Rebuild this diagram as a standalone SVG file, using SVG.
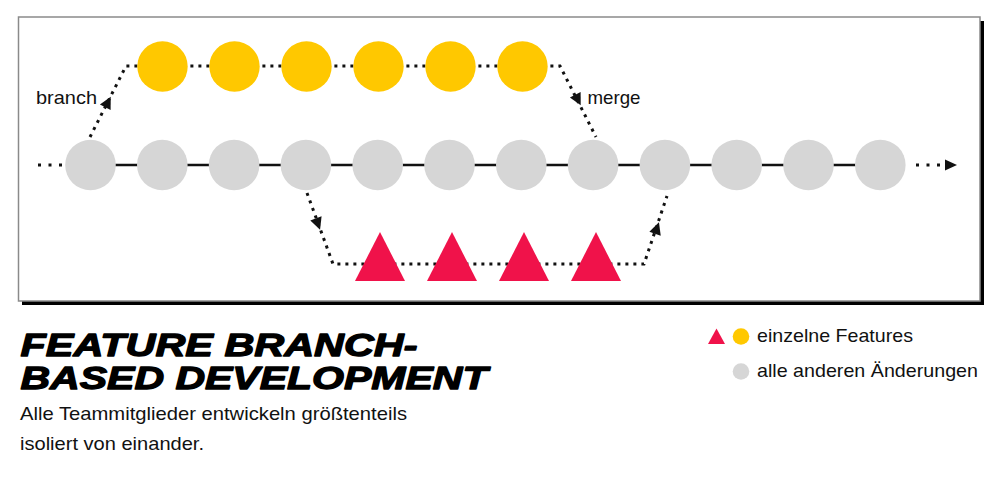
<svg xmlns="http://www.w3.org/2000/svg" xmlns:xlink="http://www.w3.org/1999/xlink" width="1000" height="482" viewBox="0 0 1000 482">
  <style>
    .gray { fill: #d6d6d6; }
    .yellow { fill: #ffc800; }
    .red { fill: #f0124a; }
    .dots { fill: none; stroke: #111; stroke-width: 3; stroke-dasharray: 3 5; }
    .dots-end { fill: none; stroke: #111; stroke-width: 3; stroke-dasharray: 3 7.5; }
    .solid { fill: none; stroke: #111; stroke-width: 2.5; }
    .label { font-family: "Liberation Sans", Arial, sans-serif; font-size: 19px; fill: #111; }
    .title { font-family: "Liberation Sans", Arial, sans-serif; font-size: 32px; font-weight: bold; font-style: italic; fill: #000; stroke: #000; stroke-width: 1.3; stroke-linejoin: round; }
  </style>
  <defs>
    <path id="ah" d="M6,0 L-6,-6 L-6,6 Z" fill="#111"/>
  </defs>
  <rect width="1000" height="482" fill="#fff"/>

  <!-- frame -->
  <g id="frame">
    <rect x="22" y="21" width="962" height="284" fill="#000"/>
    <rect x="18.5" y="17" width="961.5" height="284" fill="#fff" stroke="#8a8a8a" stroke-width="1.5"/>
  </g>

  <!-- connectors -->
  <g id="connectors">
    <line class="solid" x1="90" y1="165" x2="882" y2="165"/>
    <line class="dots-end" x1="38" y1="165" x2="64" y2="165"/>
    <line class="dots-end" x1="916" y1="165" x2="942" y2="165"/>
    <path d="M945,159.5 L957,165 L945,170.5 Z" fill="#111"/>
    <path class="dots" d="M90,137 L126,66 L560,66 L596,137"/>
    <path class="dots" d="M307,193 L333,264 L644,264 L667,196"/>
    <use xlink:href="#ah" transform="translate(108,102) rotate(-63)"/>
    <use xlink:href="#ah" transform="translate(578,100) rotate(63)"/>
    <use xlink:href="#ah" transform="translate(318,224) rotate(70)"/>
    <use xlink:href="#ah" transform="translate(657,228) rotate(-71)"/>
  </g>

  <!-- main line commits -->
  <g id="main">
    <circle id="g1" class="gray" cx="90.5" cy="165" r="25.3"/>
    <circle id="g2" class="gray" cx="162.3" cy="165" r="25.3"/>
    <circle id="g3" class="gray" cx="234.1" cy="165" r="25.3"/>
    <circle id="g4" class="gray" cx="305.9" cy="165" r="25.3"/>
    <circle id="g5" class="gray" cx="377.7" cy="165" r="25.3"/>
    <circle id="g6" class="gray" cx="449.5" cy="165" r="25.3"/>
    <circle id="g7" class="gray" cx="521.3" cy="165" r="25.3"/>
    <circle id="g8" class="gray" cx="593.1" cy="165" r="25.3"/>
    <circle id="g9" class="gray" cx="664.9" cy="165" r="25.3"/>
    <circle id="g10" class="gray" cx="736.7" cy="165" r="25.3"/>
    <circle id="g11" class="gray" cx="808.5" cy="165" r="25.3"/>
    <circle id="g12" class="gray" cx="880.3" cy="165" r="25.3"/>
  </g>

  <g id="feature-yellow">
    <circle id="y1" class="yellow" cx="162.5" cy="66.5" r="25.2"/>
    <circle id="y2" class="yellow" cx="234.5" cy="66.5" r="25.2"/>
    <circle id="y3" class="yellow" cx="306.5" cy="66.5" r="25.2"/>
    <circle id="y4" class="yellow" cx="378.5" cy="66.5" r="25.2"/>
    <circle id="y5" class="yellow" cx="450.5" cy="66.5" r="25.2"/>
    <circle id="y6" class="yellow" cx="522.5" cy="66.5" r="25.2"/>
  </g>

  <g id="feature-red">
    <polygon id="t1" class="red" points="380,232 405,281 355,281"/>
    <polygon id="t2" class="red" points="452,232 477,281 427,281"/>
    <polygon id="t3" class="red" points="524,232 549,281 499,281"/>
    <polygon id="t4" class="red" points="596,232 621,281 571,281"/>
  </g>

  <g id="labels">
    <text class="label" x="36" y="104" textLength="61" lengthAdjust="spacingAndGlyphs">branch</text>
    <text class="label" x="587.5" y="104" textLength="53" lengthAdjust="spacingAndGlyphs">merge</text>
  </g>

  <g id="title">
    <text class="title" x="20.5" y="356" textLength="397" lengthAdjust="spacingAndGlyphs">FEATURE BRANCH-</text>
    <text class="title" x="20.5" y="389" textLength="467" lengthAdjust="spacingAndGlyphs">BASED DEVELOPMENT</text>
    <text class="label" x="20" y="420" textLength="387" lengthAdjust="spacingAndGlyphs">Alle Teammitglieder entwickeln größtenteils</text>
    <text class="label" x="20" y="450" textLength="184" lengthAdjust="spacingAndGlyphs">isoliert von einander.</text>
  </g>

  <g id="legend">
    <polygon class="red" points="716.5,328.5 725,344 708,344"/>
    <circle class="yellow" cx="741" cy="336.5" r="8.3"/>
    <text class="label" x="757" y="342" textLength="156" lengthAdjust="spacingAndGlyphs">einzelne Features</text>
    <circle class="gray" cx="741" cy="371.5" r="8.3"/>
    <text class="label" x="757" y="377" textLength="221" lengthAdjust="spacingAndGlyphs">alle anderen Änderungen</text>
  </g>
</svg>
